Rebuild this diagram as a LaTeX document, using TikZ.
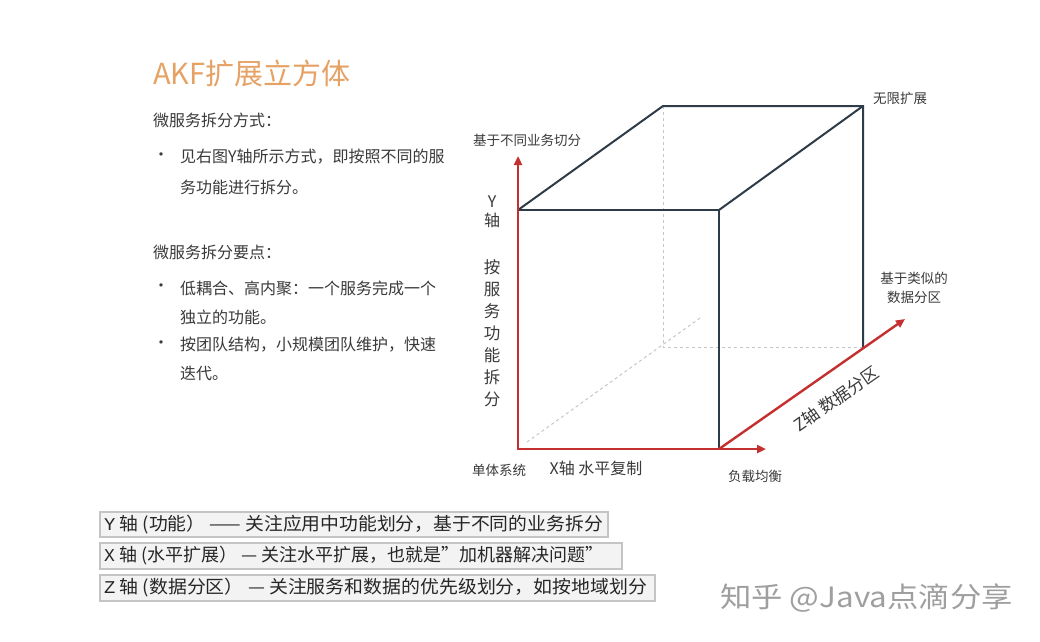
\documentclass[tikz,border=0pt]{standalone}
\usepackage{fontspec}
\setmainfont{Noto Sans CJK SC}
\newfontfamily\monofont{Liberation Mono}
\usetikzlibrary{arrows.meta}
\definecolor{cubeline}{HTML}{2E3B48}
\definecolor{axisred}{HTML}{C3302F}
\definecolor{titleorange}{HTML}{E6A265}
\definecolor{bodytext}{HTML}{3A3A3A}
\definecolor{boxfill}{HTML}{F3F3F3}
\definecolor{boxline}{HTML}{C4C4C4}
\tikzset{
  cube/.style={draw=cubeline, line width=2pt, line join=miter},
  hidden/.style={draw=gray!45, line width=1pt, dashed},
  axis/.style={draw=axisred, line width=2.4pt, -{Triangle[length=9pt,width=8pt]}},
  body/.style={font=\fontsize{16}{20}\selectfont, text=bodytext, inner sep=0pt, anchor=west},
  small/.style={font=\fontsize{13.5}{15}\selectfont, text=bodytext, inner sep=0pt},
  mid/.style={font=\fontsize{16}{18}\selectfont, text=bodytext, inner sep=0pt},
  tbox/.style={draw=boxline, fill=boxfill, line width=1.5pt},
  ttext/.style={font=\fontsize{18}{20}\selectfont, text=black!85, inner sep=0pt, anchor=west}
}
\begin{document}
\begin{tikzpicture}[x=1pt,y=-1pt]
\useasboundingbox (0,0) rectangle (1040,641);
\fill[white] (0,0) rectangle (1040,641);

% title and left text
\node[anchor=west, inner sep=0pt, font=\fontsize{29}{32}\selectfont, text=titleorange] (title) at (153,73) {AKF扩展立方体};
\node[body] (h1) at (153,120) {微服务拆分方式：};
\node[body] (b1) at (153,157) {•};
\node[body] (t1) at (180,157) {见右图Y轴所示方式，即按照不同的服};
\node[body] (t1b) at (180,187) {务功能进行拆分。};
\node[body] (h2) at (153,252) {微服务拆分要点：};
\node[body] (b2) at (153,288) {•};
\node[body] (t2) at (180,288) {低耦合、高内聚：一个服务完成一个};
\node[body] (t2b) at (180,317) {独立的功能。};
\node[body] (b3) at (153,345) {•};
\node[body] (t3) at (180,345) {按团队结构，小规模团队维护，快速};
\node[body] (t3b) at (180,373) {迭代。};

% cube corners
\coordinate (O) at (518,449);
\coordinate (Ytop) at (518,156);
\coordinate (FTL) at (518,210);
\coordinate (FTR) at (719,210);
\coordinate (FBR) at (719,449);
\coordinate (BTL) at (663,106);
\coordinate (BTR) at (863,106);
\coordinate (BBR) at (863,347);
\coordinate (BBL) at (663,347);
\coordinate (Xend) at (766,449);
\coordinate (Zend) at (905,319);
\coordinate (Dstart) at (527,442);
\coordinate (Dend) at (700,318);

% hidden edges
\draw[hidden] (BTL) -- (BBL) -- (BBR);
\draw[hidden] (Dstart) -- (Dend);

% visible edges
\draw[cube] (FTL) -- (FTR) -- (FBR);
\draw[cube] (FTL) -- (BTL) -- (BTR) -- (BBR);
\draw[cube] (FTR) -- (BTR);

% axes
\draw[axis] (O) -- (Ytop);
\draw[axis] ([xshift=-1.2pt]O) -- (Xend);
\draw[axis] (FBR) -- (Zend);

% cube labels
\node[small] (ylab) at (527,140) {基于不同业务切分};
\node[small] (inf) at (900,98) {无限扩展};
\node[mid, align=center] (yax) at (492,212) {Y\\[1pt]轴};
\node[mid, align=center, font=\fontsize{16.5}{22}\selectfont] (ydesc) at (492,333) {按\\服\\务\\功\\能\\拆\\分};
\node[small, align=center, font=\fontsize{13.5}{19}\selectfont] (zlab) at (914,288) {基于类似的\\数据分区};
\node[mid, rotate=35, font=\fontsize{17}{20}\selectfont] (zax) at (836,399) {Z轴 数据分区};
\node[small] (mono) at (499,470) {单体系统};
\node[mid] (xax) at (596,468) {X轴 水平复制};
\node[small] (lb) at (755,476) {负载均衡};

% bottom table
\draw[tbox] (100,512) rectangle (608,537);
\draw[tbox] (100,543) rectangle (622,569);
\draw[tbox] (100,575) rectangle (655,601);
\node[ttext] (r1) at (104,524.5) {\scalebox{1.045}[1]{{\monofont Y} 轴 (功能） —— 关注应用中功能划分，基于不同的业务拆分}};
\node[ttext] (r2) at (104,556) {{\monofont X} 轴 (水平扩展） — 关注水平扩展，也就是"加机器解决问题"};
\node[ttext] (r3) at (104,588) {\scalebox{1.05}[1]{{\monofont Z} 轴 (数据分区） — 关注服务和数据的优先级划分，如按地域划分}};

% watermark
\node[anchor=west, inner sep=0pt, font=\fontsize{28}{30}\selectfont, text=gray!75] (wm) at (720,598) {\scalebox{1.12}[1]{知乎 @Java点滴分享}};
\end{tikzpicture}
\end{document}
